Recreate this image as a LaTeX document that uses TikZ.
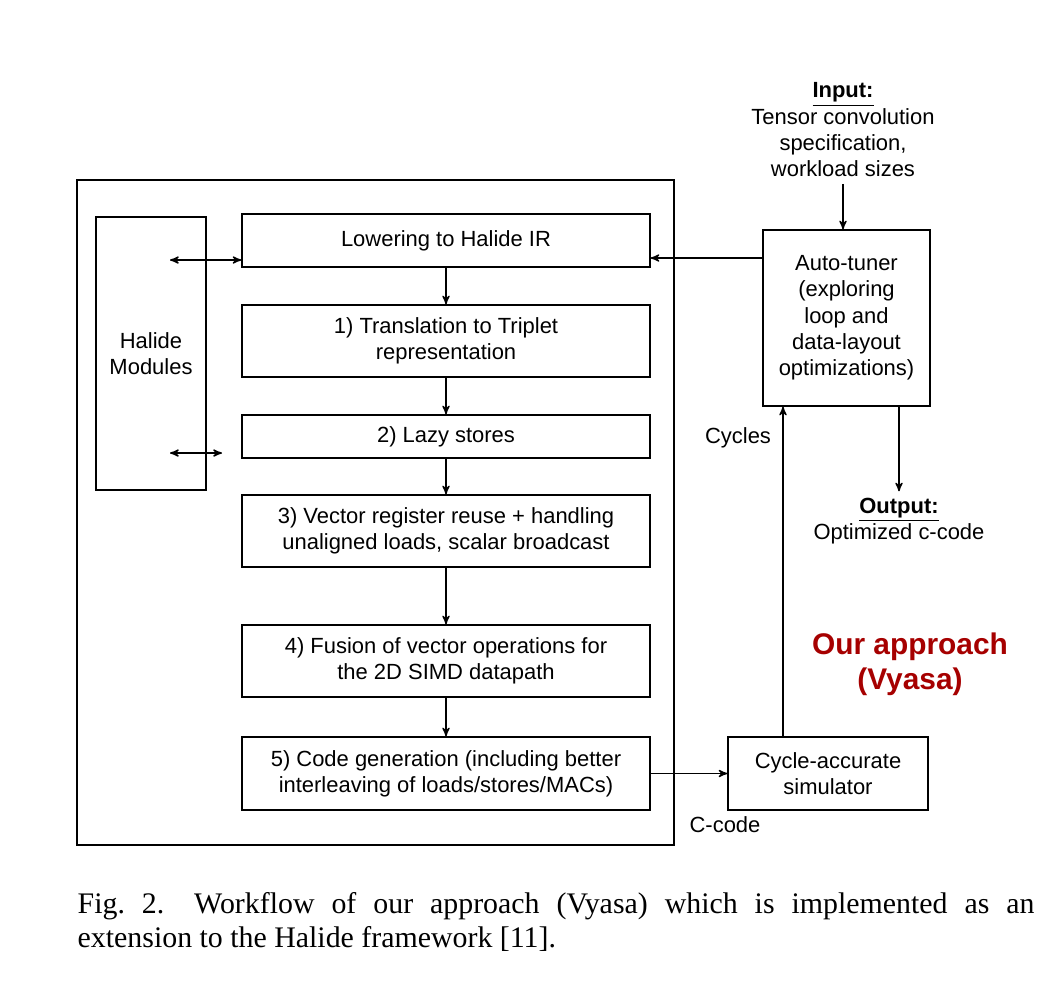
\documentclass[tikz,border=0pt]{standalone}
\usepackage{fontspec}
\setmainfont{Liberation Sans}
\newfontfamily\capfont{Liberation Serif}
\usetikzlibrary{arrows}
\usetikzlibrary{positioning}
\begin{document}
\begin{tikzpicture}[x=0.02cm,y=-0.02cm,
  blk/.style 2 args={draw, thick, minimum width=#1cm, minimum height=#2cm, align=center, inner sep=0pt},
  lbl/.style={font=\fontsize{12.5}{15}\selectfont, align=center}]
    \tikzset{>=stealth', every path/.append style={thick}}

  \useasboundingbox (0,0) rectangle (1064,998);

  %% frame
  \node[blk={11.94}{13.3}] (frame) at (375.5,512.5) {};
  \node[blk={2.2}{5.46}, lbl] (halide) at (151,353.5) {Halide\\Modules};

  %% pass pipeline
  \node[blk={8.16}{1.06}, lbl] (low) at (446,240.5) {Lowering to Halide IR};
  \node[blk={8.16}{1.44}, lbl] (p1) at (446,341) {1) Translation to Triplet\\representation};
  \node[blk={8.16}{0.86}, lbl] (p2) at (446,436.5) {2) Lazy stores};
  \node[blk={8.16}{1.44}, lbl] (p3) at (446,531) {3) Vector register reuse + handling\\unaligned loads, scalar broadcast};
  \node[blk={8.16}{1.44}, lbl] (p4) at (446,661) {4) Fusion of vector operations for\\the 2D SIMD datapath};
  \node[blk={8.16}{1.46}, lbl] (p5) at (446,773.5) {5) Code generation (including better\\interleaving of loads/stores/MACs)};

  \draw[->] (low) -- (p1);
  \foreach \step/\next in {p1/p2,p2/p3,p3/p4,p4/p5}
    \draw[->] (\step) -- (\next);

  %% edge cases
  \coordinate (m1) at (170,260);
  \coordinate (m2) at (170,453);
  \coordinate (m3) at (222,453);
  \draw[<->] (m1) -- (low.west |- m1);
  \draw[<->] (m2) -- (m3);

  %% tuner loop
  \node[blk={3.34}{3.52}, lbl] (tuner) at (846.5,318) {Auto-tuner\\(exploring\\loop and\\data-layout\\optimizations)};
  \node[blk={4.0}{1.46}, lbl] (sim) at (828,773.5) {Cycle-accurate\\simulator};
  \node[lbl] (input) at (843,130) {\textbf{\underline{Input:}}\\Tensor convolution\\specification,\\workload sizes};
  \node[lbl] (output) at (899,521) {\textbf{\underline{Output:}}\\Optimized c-code};
  \coordinate (c1) at (783,0);
  \coordinate (c2) at (899,0);
  \coordinate (c3) at (0,258);
  \coordinate (c4) at (843,0);

  \draw[->] (input.south -| c4) -- (tuner.north -| c4);
  \draw[->] (tuner.west |- c3) -- (low.east |- c3);
  \draw[->] (tuner.south -| c2) -- (output.north -| c2);
  \draw[->] (sim.north -| c1) -- (tuner.south -| c1);
  \draw[->] (p5) -- (sim);

  %% labels
  \node[lbl] (cyc) at (738,438) {Cycles};
  \node[lbl] (ccode) at (725,825) {C-code};
  \node[font=\fontsize{17}{20}\selectfont\bfseries, text=red!65!black, align=center] (ours) at (910,664) {Our approach\\(Vyasa)};

  \node[font=\capfont\fontsize{17}{19}\selectfont, text width=19.14cm, align=justify, anchor=north west, inner sep=0pt] (cap) at (77,892)
    {Fig.~2.\quad Workflow of our approach (Vyasa) which is implemented as an\linebreak extension to the Halide framework [11].};
\end{tikzpicture}
\end{document}
